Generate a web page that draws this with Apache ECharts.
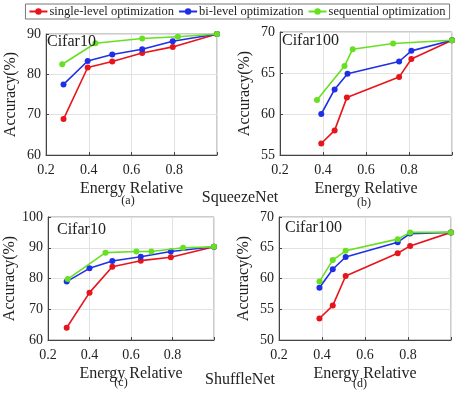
<!DOCTYPE html>
<html>
<head>
<meta charset="utf-8">
<script src="https://cdn.jsdelivr.net/npm/echarts@6/dist/echarts.min.js"></script>
<style>
  html, body { margin: 0; padding: 0; background: #fff; }
  #chart { width: 474px; height: 393px; }
</style>
</head>
<body>
<div id="chart"></div>
<script>
// series names
const seriesNames = ["single-level optimization", "bi-level optimization", "sequential optimization"];
const colors = ["#e8141c", "#1f2fe6", "#66e020"];

// (a) SqueezeNet / Cifar10
const aSingle = [[0.282, 68.9], [0.395, 81.7], [0.51, 83.2], [0.65, 85.3], [0.793, 86.8], [1.0, 90]];
const aBi = [[0.282, 77.5], [0.395, 83.3], [0.51, 84.9], [0.65, 86.2], [0.793, 88.2], [1.0, 90]];
const aSeq = [[0.276, 82.5], [0.431, 87.7], [0.65, 88.9], [0.817, 89.3], [1.0, 90]];

// (b) SqueezeNet / Cifar100
const bSingle = [[0.392, 56.4], [0.454, 58.0], [0.511, 62.0], [0.754, 64.5], [0.811, 66.7], [1.0, 69]];
const bBi = [[0.392, 60.0], [0.454, 63.0], [0.514, 64.9], [0.754, 66.4], [0.811, 67.7], [1.0, 69]];
const bSeq = [[0.372, 61.7], [0.5, 65.85], [0.538, 67.9], [0.726, 68.6], [1.0, 69]];

// (c) ShuffleNet / Cifar10
const cSingle = [[0.29, 64.0], [0.4, 75.4], [0.51, 83.8], [0.647, 85.8], [0.792, 86.9], [1.0, 90.3]];
const cBi = [[0.29, 79.0], [0.4, 83.3], [0.51, 85.7], [0.647, 87.1], [0.792, 88.8], [1.0, 90.3]];
const cSeq = [[0.295, 79.8], [0.477, 88.4], [0.626, 88.8], [0.698, 88.8], [0.851, 90.0], [1.0, 90.3]];

// (d) ShuffleNet / Cifar100
const dSingle = [[0.388, 53.5], [0.45, 55.6], [0.51, 60.4], [0.752, 64.1], [0.81, 65.3], [1.0, 67.5]];
const dBi = [[0.388, 58.5], [0.45, 61.5], [0.51, 63.5], [0.752, 65.9], [0.81, 67.3], [1.0, 67.5]];
const dSeq = [[0.388, 59.5], [0.45, 63.0], [0.51, 64.5], [0.752, 66.4], [0.81, 67.5], [1.0, 67.5]];

// y ranges per panel [min, max, interval]
const yRanges = [[60, 90, 10], [55, 70, 5], [60, 100, 10], [50, 70, 5]];
const panelData = [[aSingle, aBi, aSeq], [bSingle, bBi, bSeq], [cSingle, cBi, cSeq], [dSingle, dBi, dSeq]];
const datasetNames = ["Cifar10", "Cifar100", "Cifar10", "Cifar100"];
const panelTags = ["(a)", "(b)", "(c)", "(d)"];

const font = "'Liberation Serif', 'DejaVu Serif', serif";
const grids = [
  { left: 46, top: 34, width: 171, height: 121 },
  { left: 280, top: 32, width: 172, height: 123 },
  { left: 48, top: 217, width: 166, height: 123 },
  { left: 279, top: 217, width: 172, height: 123 },
];

const xAxes = grids.map((g, i) => ({
  gridIndex: i,
  type: "value",
  min: 0.2,
  max: 1.0,
  interval: 0.2,
  name: "Energy Relative",
  nameLocation: "middle",
  nameGap: 26,
  nameTextStyle: { fontFamily: font, fontSize: 16, color: "#222" },
  axisLine: { lineStyle: { color: "#444" } },
  axisTick: { inside: true, length: 3, lineStyle: { color: "#444" } },
  axisLabel: {
    fontFamily: font, fontSize: 14, color: "#222", margin: 8,
    formatter: (v) => (v >= 0.999 ? "" : v.toFixed(1)),
  },
  splitLine: { show: true, lineStyle: { color: "#e2e2e2" } },
}));

const yAxes = grids.map((g, i) => ({
  gridIndex: i,
  type: "value",
  min: yRanges[i][0],
  max: yRanges[i][1],
  interval: yRanges[i][2],
  name: "Accuracy(%)",
  nameLocation: "middle",
  nameGap: 27,
  nameTextStyle: { fontFamily: font, fontSize: 16, color: "#222" },
  axisLine: { show: true, lineStyle: { color: "#444" } },
  axisTick: { show: true, inside: true, length: 3, lineStyle: { color: "#444" } },
  axisLabel: { fontFamily: font, fontSize: 14, color: "#222", margin: 5 },
  splitLine: { show: true, lineStyle: { color: "#e2e2e2" } },
}));

const series = [];
panelData.forEach((panel, i) => {
  panel.forEach((data, k) => {
    series.push({
      name: seriesNames[k],
      type: "line",
      xAxisIndex: i,
      yAxisIndex: i,
      data: data,
      symbol: "circle",
      symbolSize: 6,
      lineStyle: { width: 1.6, color: colors[k] },
      itemStyle: { color: colors[k] },
      z: 3 + k,
    });
  });
});

const titles = [
  { text: "SqueezeNet", left: 240, top: 190 },
  { text: "ShuffleNet", left: 240, top: 372 },
].map((t) => ({
  text: t.text, left: t.left, top: t.top, textAlign: "center", padding: 0,
  textStyle: { fontFamily: font, fontSize: 16, fontWeight: "normal", color: "#222" },
}));

const tagPos = [[128, 195], [364, 197], [121, 377], [360, 378]];
panelTags.forEach((tag, i) => {
  titles.push({
    text: tag, left: tagPos[i][0], top: tagPos[i][1], textAlign: "center", padding: 0,
    textStyle: { fontFamily: font, fontSize: 12, fontWeight: "normal", color: "#222" },
  });
});

const namePos = [[47, 34], [282, 33], [57, 222], [285, 220]];
datasetNames.forEach((n, i) => {
  titles.push({
    text: n, left: namePos[i][0], top: namePos[i][1], padding: 0,
    textStyle: { fontFamily: font, fontSize: 16, fontWeight: "normal", color: "#222" },
  });
});

const option = {
  animation: false,
  backgroundColor: "#fff",
  color: colors,
  textStyle: { fontFamily: font },
  title: titles,
  legend: {
    data: seriesNames,
    left: "center",
    top: 4,
    width: 460,
    itemGap: 4,
    itemWidth: 18,
    itemHeight: 8,
    padding: [1, 4, 1, 3],
    borderColor: "#777",
    borderWidth: 1,
    borderRadius: 0,
    textStyle: { fontFamily: font, fontSize: 12.5, color: "#222", padding: [0, 0, 0, -3] },
  },
  grid: grids.map((g) => Object.assign({ show: true, borderColor: "#999", borderWidth: 1, backgroundColor: "transparent" }, g)),
  xAxis: xAxes,
  yAxis: yAxes,
  series: series,
};

const chart = echarts.init(document.getElementById("chart"));
chart.setOption(option);
</script>
</body>
</html>
